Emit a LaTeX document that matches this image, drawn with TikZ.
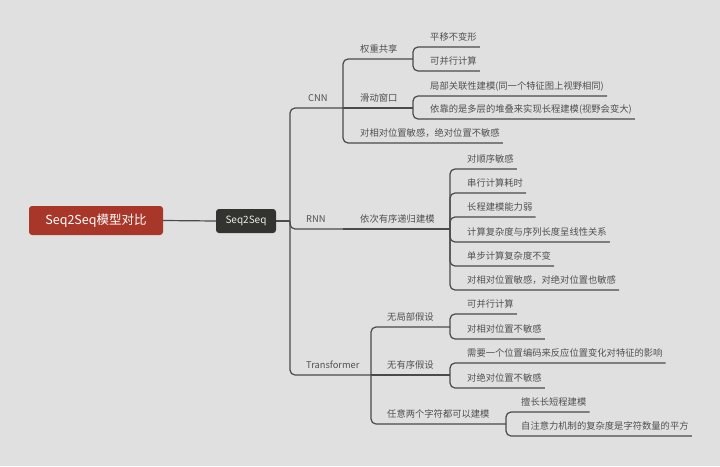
\documentclass[tikz,border=0pt]{standalone}
\usepackage{fontspec}
\setmainfont{Noto Sans CJK SC}
\definecolor{bg}{HTML}{E0E0E0}
\definecolor{rootred}{HTML}{A8372A}
\definecolor{darkbox}{HTML}{33342F}
\definecolor{txt}{HTML}{505050}
\definecolor{ln}{HTML}{4A4A4A}
\begin{document}
\begin{tikzpicture}[x=1pt,y=-1pt,
  conn/.style={draw=ln, line width=1.2pt, rounded corners=5pt},
  lab/.style={anchor=south west, inner xsep=3pt, inner ysep=5pt, text depth=1.5pt, text height=7.5pt, font=\fontsize{9.3}{11}\selectfont, text=txt},
  rootbox/.style={fill=rootred, rounded corners=3pt, minimum width=134pt, minimum height=29pt, inner sep=0pt, text=white, font=\fontsize{12.5}{14}\selectfont},
  seqbox/.style={fill=darkbox, rounded corners=3pt, minimum width=60pt, minimum height=24pt, inner sep=0pt, text=white!92!black, font=\fontsize{10}{12}\selectfont},
]
\fill[bg] (0,0) rectangle (720,466);
\useasboundingbox (0,0) rectangle (720,466);

% root and level 0
\node[rootbox] (root) at (96,220.5) {Seq2Seq模型对比};
\node[seqbox] (s2s) at (246,221) {Seq2Seq};
\coordinate (j0) at (290,221);
\draw[conn] (root.east) -- (s2s.west);
\draw[conn] (s2s.east) -- (j0);

% junctions
\coordinate (j1) at (343,108);
\coordinate (j2) at (343,229);
\coordinate (j3) at (450,229);
\coordinate (j4) at (371,375);
\coordinate (j11) at (413,59);
\coordinate (j12) at (413,108);
\coordinate (j41) at (450,327);
\coordinate (j42) at (450,375);
\coordinate (j43) at (506,424);

% level 1
\node[lab] (cnn) at (305,108) {CNN};
\node[lab] (rnn) at (303,229) {RNN};
\node[lab] (tf) at (303,375) {Transformer};
\draw[conn] (j0) |- (j1);
\draw[conn] (j0) |- (j2);
\draw[conn] (j0) |- (j4);

% CNN
\node[lab] (qz) at (357,59) {权重共享};
\node[lab] (hd) at (357,108) {滑动窗口};
\node[lab] (cnn3) at (357,143) {对相对位置敏感，绝对位置不敏感};
\draw[conn] (j1) |- (j11);
\draw[conn] (j1) -- (j12);
\draw[conn] (j1) |- (cnn3.south east);

\node[lab] (py) at (427,47) {平移不变形};
\node[lab] (bx1) at (427,71) {可并行计算};
\draw[conn] (j11) |- (py.south east);
\draw[conn] (j11) |- (bx1.south east);

\node[lab] (jb) at (427,96) {局部关联性建模(同一个特征图上视野相同)};
\node[lab] (dc) at (427,119) {依靠的是多层的堆叠来实现长程建模(视野会变大)};
\draw[conn] (j12) |- (jb.south east);
\draw[conn] (j12) |- (dc.south east);

% RNN
\node[lab] (dg) at (357,229) {依次有序递归建模};
\draw[conn] (j2) -- (j3);
\node[lab] (r1) at (464,169) {对顺序敏感};
\node[lab] (r2) at (464,193) {串行计算耗时};
\node[lab] (r3) at (464,217) {长程建模能力弱};
\node[lab] (r4) at (464,242) {计算复杂度与序列长度呈线性关系};
\node[lab] (r5) at (464,266) {单步计算复杂度不变};
\node[lab] (r6) at (464,290) {对相对位置敏感，对绝对位置也敏感};
\foreach \n in {r1,r2,r3,r4,r5,r6}{\draw[conn] (j3) |- (\n.south east);}

% Transformer
\node[lab] (t1) at (384,327) {无局部假设};
\node[lab] (t2) at (384,375) {无有序假设};
\node[lab] (t3) at (384,424) {任意两个字符都可以建模};
\draw[conn] (j4) |- (j41);
\draw[conn] (j4) -- (j42);
\draw[conn] (j4) |- (j43);

\node[lab] (t11) at (464,314) {可并行计算};
\node[lab] (t12) at (464,339) {对相对位置不敏感};
\draw[conn] (j41) |- (t11.south east);
\draw[conn] (j41) |- (t12.south east);

\node[lab] (t21) at (464,363) {需要一个位置编码来反应位置变化对特征的影响};
\node[lab] (t22) at (464,388) {对绝对位置不敏感};
\draw[conn] (j42) |- (t21.south east);
\draw[conn] (j42) |- (t22.south east);

\node[lab] (t31) at (518,412) {擅长长短程建模};
\node[lab] (t32) at (518,436) {自注意力机制的复杂度是字符数量的平方};
\draw[conn] (j43) |- (t31.south east);
\draw[conn] (j43) |- (t32.south east);
\end{tikzpicture}
\end{document}
